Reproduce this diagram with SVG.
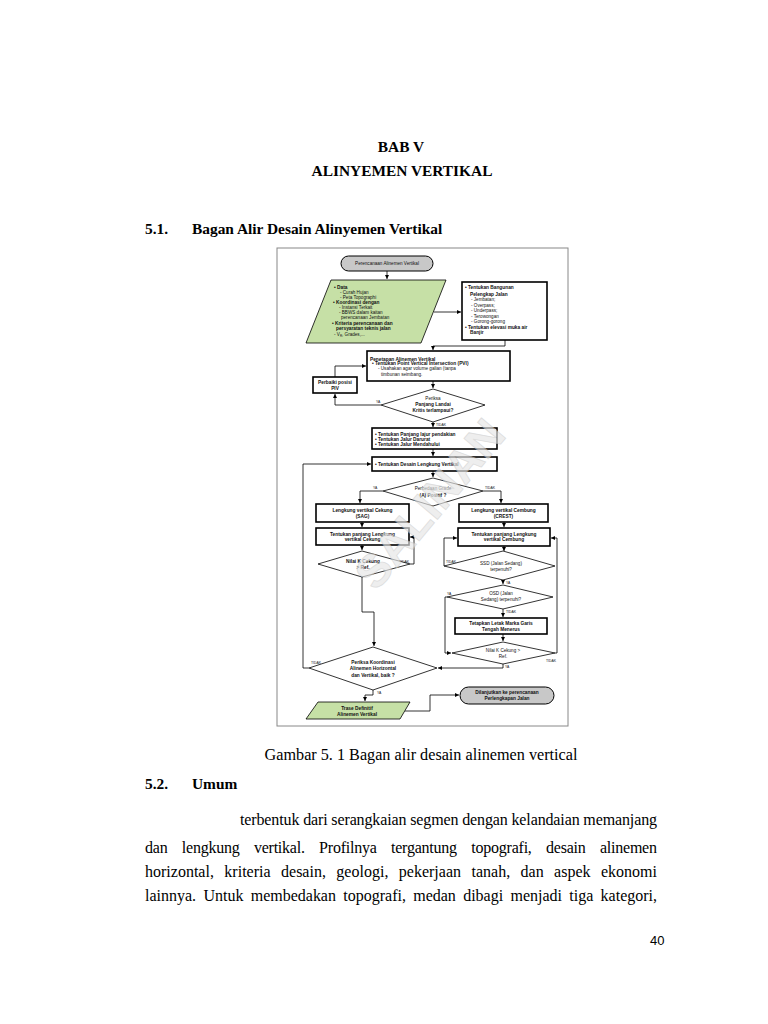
<svg xmlns="http://www.w3.org/2000/svg" width="768" height="1024" viewBox="0 0 768 1024">
<defs>
<marker id="ah" viewBox="0 0 6 6" refX="6" refY="3" markerWidth="4" markerHeight="4" markerUnits="userSpaceOnUse" orient="auto"><path d="M0,0 L6,3 L0,6 z" fill="#000"/></marker>
<style>
.pg{font-family:"Liberation Serif",serif;fill:#000}
.h{font-weight:bold;font-size:15.4px}
.b{font-size:16.2px}
.p{font-size:16px}
.f{font-family:"Liberation Sans",Arial,sans-serif;font-size:4.6px;fill:#111}
.fb{font-family:"Liberation Sans",Arial,sans-serif;font-size:4.8px;font-weight:bold;fill:#111}
.lb{font-family:"Liberation Sans",Arial,sans-serif;font-size:3.4px;fill:#111}
.box{fill:#fff;stroke:#000;stroke-width:1.6}
.dia{fill:#fff;stroke:#000;stroke-width:0.8}
.par{fill:#c6e0a6;stroke:#000;stroke-width:0.8}
.term{fill:#c8c8c8;stroke:#000;stroke-width:1}
.c{fill:none;stroke:#000;stroke-width:0.8}
.a{marker-end:url(#ah)}
</style>
</defs>
<rect width="768" height="1024" fill="#fff"/>

<text class="pg h" x="401" y="152" text-anchor="middle">BAB V</text>
<text class="pg h" x="402" y="176" text-anchor="middle">ALINYEMEN VERTIKAL</text>
<text class="pg h" x="145" y="234">5.1.</text>
<text class="pg h" x="192" y="234">Bagan Alir Desain Alinyemen Vertikal</text>

<rect x="277" y="248" width="291" height="478" fill="#fff" stroke="#888" stroke-width="1"/>

<g id="connectors">
<path class="c a" d="M387,271 V279"/>
<path class="c a" d="M434,312 H461"/>
<path class="c a" d="M505,340 V346 H433 V350"/>
<path class="c a" d="M433,381 V388"/>
<path class="c a" d="M381,405 H335 V394"/>
<path class="c a" d="M335,377 V366 H366"/>
<path class="c a" d="M433,422 V427"/>
<path class="c a" d="M433,449 V456"/>
<path class="c a" d="M433,471 V477"/>
<path class="c a" d="M383,491 H360 V503"/>
<path class="c a" d="M483,491 H501 V503"/>
<path class="c a" d="M362,522 V527"/>
<path class="c a" d="M362,545 V550"/>
<path class="c a" d="M410,564 H414 V537 H410"/>
<path class="c a" d="M362,577 V612 H374 V646"/>
<path class="c a" d="M504,522 V527"/>
<path class="c a" d="M504,546 V551"/>
<path class="c a" d="M444,566 V538 H457"/>
<path class="c a" d="M503,580 V584"/>
<path class="c a" d="M447,597 H445 V653 H451"/>
<path class="c a" d="M503,609 V617"/>
<path class="c a" d="M503,634 V641"/>
<path class="c a" d="M555,653 H557 V538 H551"/>
<path class="c a" d="M503,664 V668 H438"/>
<path class="c a" d="M309,668 H303 V464 H371"/>
<path class="c a" d="M373,690 V695 H365 V701"/>
<path class="c a" d="M405,711 H430 V695 H459"/>
<text class="lb" x="376" y="403">YA</text>
<text class="lb" x="436" y="426">TIDAK</text>
<text class="lb" x="373" y="489">YA</text>
<text class="lb" x="485" y="489">TIDAK</text>
<text class="lb" x="399" y="563">TIDAK</text>
<text class="lb" x="446" y="563">TIDAK</text>
<text class="lb" x="506" y="584">YA</text>
<text class="lb" x="447" y="595">YA</text>
<text class="lb" x="506" y="613">TIDAK</text>
<text class="lb" x="546" y="662">TIDAK</text>
<text class="lb" x="505" y="668">YA</text>
<text class="lb" x="311" y="664">TIDAK</text>
<text class="lb" x="377" y="694">YA</text>
</g>

<g id="start">
<rect class="term" x="341" y="256" width="92" height="15" rx="7.5"/>
<text class="f" x="387" y="265.3" text-anchor="middle">Perencanaan Alinemen Vertikal</text>
</g>

<g id="data">
<polygon class="par" points="331,280 446,280 421,343 306,343"/>
<text class="fb" x="334" y="288.5">• Data</text>
<text class="f" x="340" y="293.5">- Curah Hujan</text>
<text class="f" x="340" y="298.5">- Peta Topographi</text>
<text class="fb" x="333" y="303.5">• Koordinasi dengan</text>
<text class="f" x="339" y="308.7">- Instansi Terkait</text>
<text class="f" x="339" y="314">- BBWS dalam kaitan</text>
<text class="f" x="341" y="319.3">perencanaan Jembatan</text>
<text class="fb" x="332" y="324.6">• Kriteria perencanaan dan</text>
<text class="fb" x="336" y="329.9">persyaratan teknis jalan</text>
<text class="f" x="334" y="335.5">- V<tspan font-size="3" dy="1">R</tspan><tspan dy="-1">, Grades,...</tspan></text>
</g>

<g id="bangunan">
<rect class="box" x="462" y="282" width="85" height="58"/>
<text class="fb" x="465" y="288.5">• Tentukan Bangunan</text>
<text class="fb" x="470" y="295.5">Pelengkap Jalan</text>
<text class="f" x="471" y="300.7">- Jembatan;</text>
<text class="f" x="471" y="306.5">- Overpass;</text>
<text class="f" x="471" y="312.3">- Underpass;</text>
<text class="f" x="471" y="317.6">- Terowongan</text>
<text class="f" x="471" y="323.3">- Gorong-gorong</text>
<text class="fb" x="465" y="328.6">• Tentukan elevasi muka air</text>
<text class="fb" x="470" y="334">Banjir</text>
</g>

<g id="penetapan">
<rect class="box" x="367" y="351" width="143" height="30"/>
<text class="fb" x="370" y="360.5">Penetapan Alinemen Vertikal</text>
<text class="fb" x="372" y="365.3">• Tentukan Point Vertical Intersection (PVI)</text>
<text class="f" x="378" y="370.3">- Usahakan agar volume galian (tanpa</text>
<text class="f" x="381" y="375.5">timbunan seimbang.</text>
</g>

<g id="perbaiki">
<rect class="box" x="313" y="377" width="44" height="16"/>
<text class="fb" x="335" y="384" text-anchor="middle">Perbaiki posisi</text>
<text class="fb" x="335" y="389.5" text-anchor="middle">PIV</text>
</g>

<g id="cek-landai">
<polygon class="dia" points="433,389 485,405 433,422 381,405"/>
<text class="f" x="433" y="400" text-anchor="middle" font-size="4.2">Periksa</text>
<text class="fb" x="433" y="405.8" text-anchor="middle" font-size="5.4">Panjang Landai</text>
<text class="fb" x="433" y="411.6" text-anchor="middle" font-size="5.4">Kritis terlampaui?</text>
</g>

<g id="lajur">
<rect class="box" x="372" y="428" width="125" height="21"/>
<text class="fb" x="375" y="435.6">• Tentukan Panjang lajur pendakian</text>
<text class="fb" x="375" y="440.6">• Tentukan Jalur Darurat</text>
<text class="fb" x="375" y="445.6">• Tentukan Jalur Mendahului</text>
</g>

<g id="desain">
<rect class="box" x="372" y="457" width="125" height="14"/>
<text class="fb" x="375" y="465.6">• Tentukan Desain Lengkung Vertikal</text>
</g>

<g id="cek-grade">
<polygon class="dia" points="433,478 483,491 433,506 383,491"/>
<text class="f" x="433" y="490.3" text-anchor="middle">Perbedaan Grade</text>
<text class="fb" x="433" y="496.5" text-anchor="middle">(A) Positif ?</text>
</g>

<g id="sag">
<rect class="box" x="316" y="504" width="93" height="18"/>
<text class="fb" x="362.5" y="512" text-anchor="middle">Lengkung vertikal Cekung</text>
<text class="fb" x="362.5" y="518" text-anchor="middle">(SAG)</text>
</g>

<g id="panjang-cekung">
<rect class="box" x="316" y="528" width="93" height="17"/>
<text class="fb" x="362.5" y="535.5" text-anchor="middle">Tentukan panjang Lengkung</text>
<text class="fb" x="362.5" y="541.3" text-anchor="middle">vertikal Cekung</text>
</g>

<g id="cek-k-cekung">
<polygon class="dia" points="362,551 410,564 362,577 318,564"/>
<text class="fb" x="363" y="563" text-anchor="middle">Nilai K Cekung</text>
<text class="fb" x="363" y="569" text-anchor="middle">&gt; Ref.</text>
</g>

<g id="crest">
<rect class="box" x="459" y="504" width="89" height="18"/>
<text class="fb" x="503.5" y="512" text-anchor="middle">Lengkung vertikal Cembung</text>
<text class="fb" x="503.5" y="518" text-anchor="middle">(CREST)</text>
</g>

<g id="panjang-cembung">
<rect class="box" x="458" y="528" width="92" height="18"/>
<text class="fb" x="504" y="535.5" text-anchor="middle">Tentukan panjang Lengkung</text>
<text class="fb" x="504" y="541.3" text-anchor="middle">vertikal Cembung</text>
</g>

<g id="cek-ssd">
<polygon class="dia" points="503,551 555,566 503,580 444,566"/>
<text class="f" x="501" y="565" text-anchor="middle">SSD (Jalan Sedang)</text>
<text class="f" x="501" y="571" text-anchor="middle">terpenuhi?</text>
</g>

<g id="cek-osd">
<polygon class="dia" points="503,585 553,597 503,609 447,597"/>
<text class="f" x="501" y="595" text-anchor="middle">OSD (Jalan</text>
<text class="f" x="501" y="601" text-anchor="middle">Sedang) terpenuhi?</text>
</g>

<g id="marka">
<rect class="box" x="455" y="618" width="92" height="16"/>
<text class="fb" x="501" y="625" text-anchor="middle">Tetapkan Letak Marka Garis</text>
<text class="fb" x="501" y="631" text-anchor="middle">Tengah Menerus</text>
</g>

<g id="cek-k-cembung">
<polygon class="dia" points="503,642 555,653 503,664 452,653"/>
<text class="f" x="503" y="652" text-anchor="middle">Nilai K Cekung &gt;</text>
<text class="f" x="503" y="658" text-anchor="middle">Ref.</text>
</g>

<g id="cek-koordinasi">
<polygon class="dia" points="373,647 437,668 373,690 309,668"/>
<text class="fb" x="373" y="663.5" text-anchor="middle" font-size="5.2">Periksa Koordinasi</text>
<text class="fb" x="373" y="670" text-anchor="middle" font-size="5.2">Alinemen Horizontal</text>
<text class="fb" x="373" y="676.5" text-anchor="middle" font-size="5.2">dan Vertikal, baik ?</text>
</g>

<g id="trase">
<polygon class="par" points="318,702 410,702 400,719 306,719"/>
<text class="fb" x="357" y="709.5" text-anchor="middle">Trase Definitif</text>
<text class="fb" x="357" y="715.5" text-anchor="middle">Alinemen Vertikal</text>
</g>

<g id="lanjut">
<rect class="term" x="460" y="687" width="94" height="17" rx="8.5"/>
<text class="fb" x="507" y="694.3" text-anchor="middle">Dilanjutkan ke perencanaan</text>
<text class="fb" x="507" y="700.3" text-anchor="middle">Perlengkapan Jalan</text>
</g>

<text x="442" y="514" transform="rotate(-50 442 514)" text-anchor="middle" font-family="Liberation Sans,Arial,sans-serif" font-weight="bold" font-size="46" fill="#e6e6e6" stroke="#cccccc" stroke-width="0.8" opacity="0.65">SALINAN</text>

<text class="pg b" x="421" y="760" text-anchor="middle">Gambar 5. 1 Bagan alir desain alinemen vertical</text>
<text class="pg h" x="145" y="789">5.2.</text>
<text class="pg h" x="192" y="789">Umum</text>
<text class="pg p" x="240" y="825" textLength="417" lengthAdjust="spacing">terbentuk dari serangkaian segmen dengan kelandaian memanjang</text>
<text class="pg p" x="145" y="853" word-spacing="10.6" textLength="512" lengthAdjust="spacing">dan lengkung vertikal. Profilnya tergantung topografi, desain alinemen</text>
<text class="pg p" x="145" y="877" word-spacing="6.4" textLength="512" lengthAdjust="spacing">horizontal, kriteria desain, geologi, pekerjaan tanah, dan aspek ekonomi</text>
<text class="pg p" x="145" y="901" word-spacing="3.3" textLength="512" lengthAdjust="spacing">lainnya. Untuk membedakan topografi, medan dibagi menjadi tiga kategori,</text>
<text x="650" y="945" font-family="Liberation Sans,Arial,sans-serif" font-size="13" fill="#000">40</text>
</svg>
